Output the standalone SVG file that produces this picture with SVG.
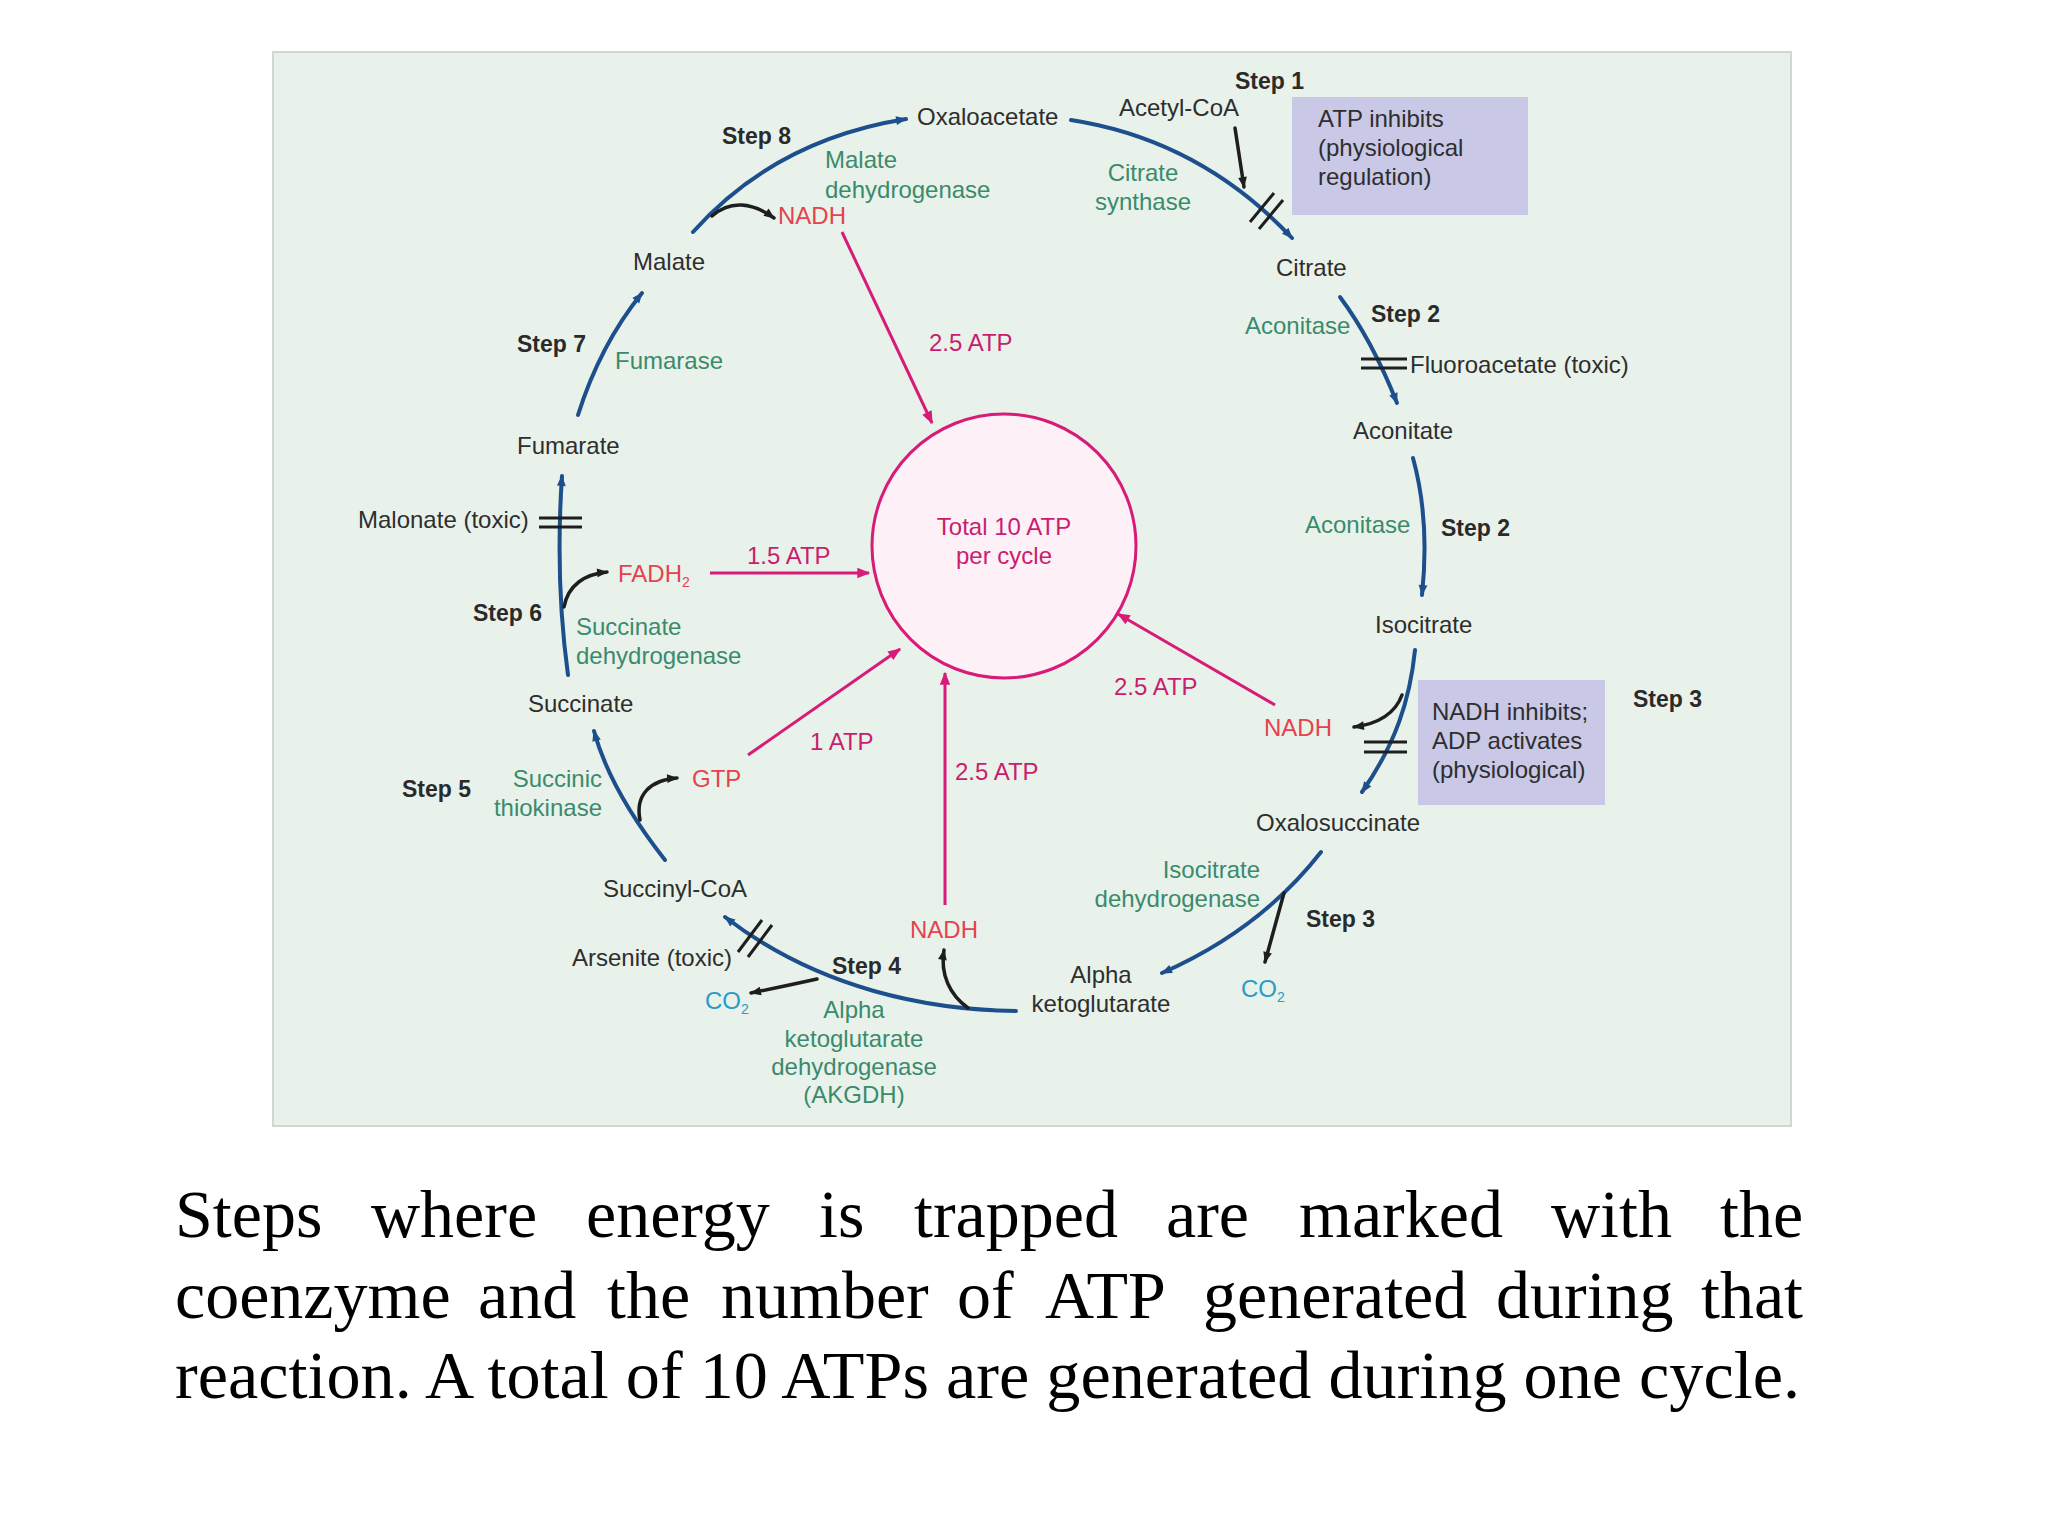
<svg xmlns="http://www.w3.org/2000/svg" width="2048" height="1536" viewBox="0 0 2048 1536">
<style>
text{font-family:"Liberation Sans",Arial,sans-serif;font-size:24px}
.k{fill:#2e2e2e}
.b{fill:#2a2a2a;font-weight:bold;font-size:23px}
.g{fill:#3b8a6c}
.r{fill:#e5424e}
.p{fill:#c91d6f}
.c{fill:#2a9cc6}
.sub{font-size:14px}
.cap{font-family:"Liberation Serif","Times New Roman",serif;font-size:68px;fill:#000}
.blue{fill:none;stroke:#1d4f8c;stroke-width:4;stroke-linecap:round}
.blk{fill:none;stroke:#1e1e1e;stroke-width:3.5;stroke-linecap:round}
.pink{fill:none;stroke:#d81b78;stroke-width:3}
.bar{stroke:#1e1e1e;stroke-width:3;fill:none}
.box{fill:#c9c8e6}
</style>
<defs>
<marker id="ab" viewBox="0 0 10 10" refX="9" refY="5" markerWidth="14" markerHeight="11" markerUnits="userSpaceOnUse" orient="auto"><path d="M0,1 L10,5 L0,9 z" fill="#1d4f8c"/></marker>
<marker id="ak" viewBox="0 0 10 10" refX="9" refY="5" markerWidth="13" markerHeight="11" markerUnits="userSpaceOnUse" orient="auto"><path d="M0,1 L10,5 L0,9 z" fill="#1e1e1e"/></marker>
<marker id="ap" viewBox="0 0 10 10" refX="9" refY="5" markerWidth="15" markerHeight="13" markerUnits="userSpaceOnUse" orient="auto"><path d="M0,1 L10,5 L0,9 z" fill="#d81b78"/></marker>
</defs>
<rect width="2048" height="1536" fill="#ffffff"/>
<rect id="panel" x="273" y="52" width="1518" height="1074" fill="#e8f2ea" stroke="#cfd8d2" stroke-width="2"/>

<g id="connectors">
<!-- main cycle (blue) -->
<path class="blue" d="M693,232 Q775,140 906,119" marker-end="url(#ab)"/>
<path class="blue" d="M1071,120 Q1200,140 1292,238" marker-end="url(#ab)"/>
<path class="blue" d="M1340,297 Q1372,340 1397,403" marker-end="url(#ab)"/>
<path class="blue" d="M1413,458 Q1430,520 1422,595" marker-end="url(#ab)"/>
<path class="blue" d="M1415,650 C1410,700 1395,745 1362,792" marker-end="url(#ab)"/>
<path class="blue" d="M1321,852 Q1260,930 1162,973" marker-end="url(#ab)"/>
<path class="blue" d="M1016,1011 C930,1010 820,990 725,917" stroke-width="5" marker-end="url(#ab)"/>
<path class="blue" d="M665,860 Q610,790 594,731" marker-end="url(#ab)"/>
<path class="blue" d="M568,675 Q555,580 562,476" marker-end="url(#ab)"/>
<path class="blue" d="M578,415 Q600,345 642,293" marker-end="url(#ab)"/>
<!-- side branches (black) -->
<path class="blk" d="M712,216 C730,200 752,202 774,218" marker-end="url(#ak)"/>
<path class="blk" d="M1235,128 L1244,187" marker-end="url(#ak)"/>
<path class="blk" d="M1402,695 Q1392,722 1354,727" marker-end="url(#ak)"/>
<path class="blk" d="M1284,893 L1265,962" marker-end="url(#ak)"/>
<path class="blk" d="M968,1008 C950,995 940,975 944,950" marker-end="url(#ak)"/>
<path class="blk" d="M817,979 Q790,985 751,993" marker-end="url(#ak)"/>
<path class="blk" d="M640,820 C635,795 650,780 677,778" marker-end="url(#ak)"/>
<path class="blk" d="M564,607 C568,585 585,574 607,572" marker-end="url(#ak)"/>
<!-- inhibition bars -->
<path class="bar" d="M1250,222 L1274,193 M1259,229 L1283,200"/>
<path class="bar" d="M1361,359 L1407,359 M1361,368 L1407,368"/>
<path class="bar" d="M1364,742 L1407,742 M1364,752 L1407,752"/>
<path class="bar" d="M738,952 L762,920 M748,957 L772,925"/>
<path class="bar" d="M539,518 L582,518 M539,527 L582,527"/>
<!-- ATP arrows (pink) -->
<path class="pink" d="M842,232 L932,423" marker-end="url(#ap)"/>
<path class="pink" d="M710,573 L869,573" marker-end="url(#ap)"/>
<path class="pink" d="M748,755 L900,649" marker-end="url(#ap)"/>
<path class="pink" d="M945,905 L945,673" marker-end="url(#ap)"/>
<path class="pink" d="M1275,705 L1118,614" marker-end="url(#ap)"/>
</g>

<g id="total">
<circle cx="1004" cy="546" r="132" fill="#fdf0f6" stroke="#d81b78" stroke-width="3"/>
<text class="p" x="1004" y="535" text-anchor="middle">Total 10 ATP</text>
<text class="p" x="1004" y="564" text-anchor="middle">per cycle</text>
</g>

<g id="oxaloacetate"><text class="k" x="917" y="125">Oxaloacetate</text></g>
<g id="acetylcoa"><text class="k" x="1119" y="116">Acetyl-CoA</text></g>
<g id="step1"><text class="b" x="1235" y="89">Step 1</text></g>
<g id="citrate-synthase"><text class="g" x="1143" y="181" text-anchor="middle">Citrate</text><text class="g" x="1143" y="210" text-anchor="middle">synthase</text></g>
<g id="box-atp"><rect class="box" x="1292" y="97" width="236" height="118"/>
<text class="k" x="1318" y="127">ATP inhibits</text><text class="k" x="1318" y="156">(physiological</text><text class="k" x="1318" y="185">regulation)</text></g>
<g id="citrate"><text class="k" x="1276" y="276">Citrate</text></g>
<g id="aconitase1"><text class="g" x="1245" y="334">Aconitase</text></g>
<g id="step2a"><text class="b" x="1371" y="322">Step 2</text></g>
<g id="fluoroacetate"><text class="k" x="1410" y="373">Fluoroacetate (toxic)</text></g>
<g id="aconitate"><text class="k" x="1353" y="439">Aconitate</text></g>
<g id="aconitase2"><text class="g" x="1305" y="533">Aconitase</text></g>
<g id="step2b"><text class="b" x="1441" y="536">Step 2</text></g>
<g id="isocitrate"><text class="k" x="1375" y="633">Isocitrate</text></g>
<g id="nadh-right"><text class="r" x="1264" y="736">NADH</text></g>
<g id="box-nadh"><rect class="box" x="1418" y="680" width="187" height="125"/>
<text class="k" x="1432" y="720">NADH inhibits;</text><text class="k" x="1432" y="749">ADP activates</text><text class="k" x="1432" y="778">(physiological)</text></g>
<g id="step3a"><text class="b" x="1633" y="707">Step 3</text></g>
<g id="oxalosuccinate"><text class="k" x="1256" y="831">Oxalosuccinate</text></g>
<g id="idh"><text class="g" x="1260" y="878" text-anchor="end">Isocitrate</text><text class="g" x="1260" y="907" text-anchor="end">dehydrogenase</text></g>
<g id="step3b"><text class="b" x="1306" y="927">Step 3</text></g>
<g id="co2-right"><text class="c" x="1241" y="997">CO<tspan class="sub" dy="5">2</tspan></text></g>
<g id="akg"><text class="k" x="1101" y="983" text-anchor="middle">Alpha</text><text class="k" x="1101" y="1012" text-anchor="middle">ketoglutarate</text></g>
<g id="nadh-bottom"><text class="r" x="910" y="938">NADH</text></g>
<g id="step4"><text class="b" x="832" y="974">Step 4</text></g>
<g id="arsenite"><text class="k" x="572" y="966">Arsenite (toxic)</text></g>
<g id="co2-left"><text class="c" x="705" y="1009">CO<tspan class="sub" dy="5">2</tspan></text></g>
<g id="akgdh"><text class="g" x="854" y="1018" text-anchor="middle">Alpha</text><text class="g" x="854" y="1047" text-anchor="middle">ketoglutarate</text><text class="g" x="854" y="1075" text-anchor="middle">dehydrogenase</text><text class="g" x="854" y="1103" text-anchor="middle">(AKGDH)</text></g>
<g id="succinylcoa"><text class="k" x="603" y="897">Succinyl-CoA</text></g>
<g id="step5"><text class="b" x="402" y="797">Step 5</text></g>
<g id="thiokinase"><text class="g" x="602" y="787" text-anchor="end">Succinic</text><text class="g" x="602" y="816" text-anchor="end">thiokinase</text></g>
<g id="gtp"><text class="r" x="692" y="787">GTP</text></g>
<g id="atp1"><text class="p" x="810" y="750">1 ATP</text></g>
<g id="atp25b"><text class="p" x="955" y="780">2.5 ATP</text></g>
<g id="succinate"><text class="k" x="528" y="712">Succinate</text></g>
<g id="step6"><text class="b" x="473" y="621">Step 6</text></g>
<g id="sdh"><text class="g" x="576" y="635">Succinate</text><text class="g" x="576" y="664">dehydrogenase</text></g>
<g id="fadh2"><text class="r" x="618" y="582">FADH<tspan class="sub" dy="5">2</tspan></text></g>
<g id="atp15"><text class="p" x="747" y="564">1.5 ATP</text></g>
<g id="malonate"><text class="k" x="358" y="528">Malonate (toxic)</text></g>
<g id="fumarate"><text class="k" x="517" y="454">Fumarate</text></g>
<g id="step7"><text class="b" x="517" y="352">Step 7</text></g>
<g id="fumarase"><text class="g" x="615" y="369">Fumarase</text></g>
<g id="malate"><text class="k" x="633" y="270">Malate</text></g>
<g id="step8"><text class="b" x="722" y="144">Step 8</text></g>
<g id="mdh"><text class="g" x="825" y="168">Malate</text><text class="g" x="825" y="198">dehydrogenase</text></g>
<g id="nadh-top"><text class="r" x="778" y="224">NADH</text></g>
<g id="atp25t"><text class="p" x="929" y="351">2.5 ATP</text></g>
<g id="atp25r"><text class="p" x="1114" y="695">2.5 ATP</text></g>

<g id="caption">
<text class="cap" y="1237"><tspan x="175">Steps</tspan><tspan x="371">where</tspan><tspan x="586">energy</tspan><tspan x="819">is</tspan><tspan x="914">trapped</tspan><tspan x="1166">are</tspan><tspan x="1299">marked</tspan><tspan x="1551">with</tspan><tspan x="1720">the</tspan></text>
<text class="cap" y="1318"><tspan x="175">coenzyme</tspan><tspan x="478">and</tspan><tspan x="607">the</tspan><tspan x="721">number</tspan><tspan x="957">of</tspan><tspan x="1045">ATP</tspan><tspan x="1203">generated</tspan><tspan x="1496">during</tspan><tspan x="1701">that</tspan></text>
<text class="cap" x="175" y="1398" textLength="1625" lengthAdjust="spacingAndGlyphs">reaction. A total of 10 ATPs are generated during one cycle.</text>
</g>
</svg>
